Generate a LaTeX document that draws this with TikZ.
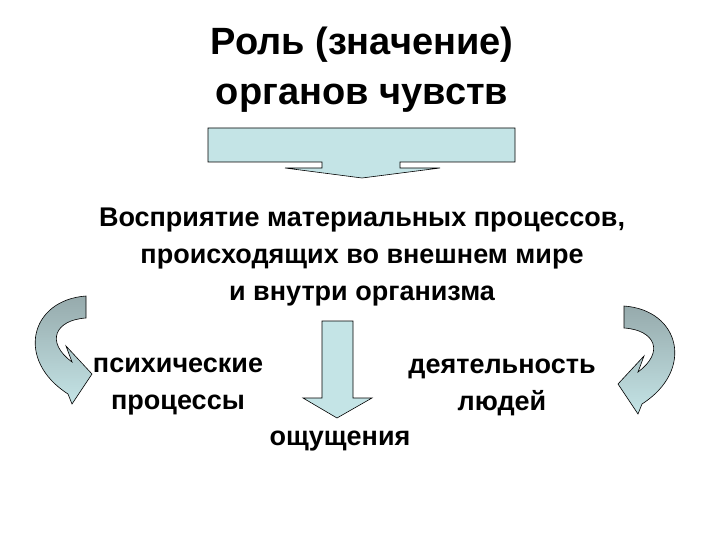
\documentclass[tikz,border=0pt]{standalone}
\usepackage{fontspec}
\setmainfont{Liberation Sans}
\usetikzlibrary{positioning}
\definecolor{arrowcyan}{RGB}{196,228,230}
\definecolor{arrowgrey}{RGB}{150,170,172}
\tikzset{
  blockarrow/.style={draw=black, line width=0.6pt, fill=arrowcyan},
  curvarrow/.style={draw=black, line width=0.6pt, top color=arrowgrey, bottom color=arrowcyan},
  titletext/.style={font=\fontsize{38}{50}\selectfont\bfseries, align=center},
  bodytext/.style={font=\fontsize{27}{37}\selectfont\bfseries, align=center}
}
\begin{document}
\begin{tikzpicture}[x=1pt,y=-1pt]
    \useasboundingbox (0,0) rectangle (720,540);
    % Title
    \node[titletext] (title) at (362,70) {Роль (значение)\\органов чувств};
    % Top block arrow
    \draw[blockarrow] (208,128) -- (515,128) -- (515,162) -- (400,162) -- (400,168)
        -- (440,168) -- (362,178) -- (285,168) -- (322,168) -- (322,162) -- (208,162) -- cycle;
    % Main text
    \node[bodytext] (main) at (362,257) {Восприятие материальных процессов,\\происходящих во внешнем мире\\и внутри организма};
    % Down arrow
    \draw[blockarrow] (322,321) -- (353,321) -- (353,398) -- (372,398) -- (337,418)
        -- (303,398) -- (322,398) -- cycle;
    % Left curved arrow
    \draw[curvarrow] (86,296) .. controls (30,300) and (15,360) .. (68,394) -- (72,404)
        -- (92,374) -- (66,346) -- (72,362) .. controls (45,342) and (55,320) .. (86,318) -- cycle;
    % Right curved arrow (mirrored)
    \begin{scope}[xshift=710pt, yshift=-10pt, xscale=-1]
        \draw[curvarrow] (86,296) .. controls (30,300) and (15,360) .. (68,394) -- (72,404)
            -- (92,374) -- (66,346) -- (72,362) .. controls (45,342) and (55,320) .. (86,318) -- cycle;
    \end{scope}
    % Labels
    \node[bodytext] (psych) at (178,387) {психические\\процессы};
    \node[bodytext] (activity) at (502,387) {деятельность\\людей};
    \node[bodytext] (sense) at (340,441) {ощущения};
\end{tikzpicture}
\end{document}
